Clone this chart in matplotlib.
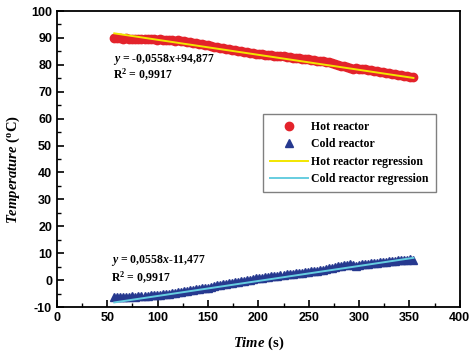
import numpy as np
import matplotlib
matplotlib.use('Agg')
import matplotlib.pyplot as plt
from matplotlib.ticker import MultipleLocator

plt.rcParams['mathtext.fontset'] = 'custom'
plt.rcParams['mathtext.rm'] = 'Liberation Serif:bold'
plt.rcParams['mathtext.it'] = 'Liberation Serif:italic:bold'
plt.rcParams['mathtext.bf'] = 'Liberation Serif:bold'
plt.rcParams['axes.unicode_minus'] = False

# sampling times (s)
time_s = list(range(57, 355, 3))

hot = [90.0, 89.8, 89.9, 89.7, 89.8, 89.6, 89.7, 89.6, 89.7, 89.6,
       89.7, 89.6, 89.5, 89.6, 89.4, 89.5, 89.3, 89.4, 89.2, 89.2,
       89.0, 89.1, 88.9, 88.8, 88.6, 88.4, 88.2, 88.0, 87.8, 87.6,
       87.4, 87.2, 87.0, 86.8, 86.6, 86.4, 86.2, 86.0, 85.8, 85.6,
       85.4, 85.2, 85.0, 84.9, 84.7, 84.5, 84.4, 84.2, 84.1, 83.9,
       83.8, 83.7, 83.6, 83.4, 83.3, 83.2, 83.1, 82.9, 82.8, 82.7,
       82.6, 82.4, 82.3, 82.2, 82.0, 81.9, 81.8, 81.6, 81.5, 81.3,
       81.1, 80.9, 80.6, 80.3, 80.0, 79.7, 79.4, 79.1, 78.8, 78.5,
       78.9, 78.6, 78.4, 78.3, 78.1, 77.9, 77.8, 77.6, 77.4, 77.2,
       77.0, 76.9, 76.7, 76.5, 76.3, 76.1, 75.9, 75.8, 75.6, 75.5]

cold = [-6.3, -6.4, -6.2, -6.3, -6.1, -6.2, -6.0, -6.1, -6.0, -5.9,
        -5.9, -5.8, -5.7, -5.7, -5.6, -5.4, -5.3, -5.1, -5.0, -4.8,
        -4.7, -4.5, -4.3, -4.2, -4.0, -3.8, -3.6, -3.4, -3.3, -3.1,
        -2.9, -2.8, -2.5, -2.3, -2.0, -1.8, -1.6, -1.4, -1.2, -1.0,
        -0.8, -0.6, -0.4, -0.2, 0.0, 0.2, 0.4, 0.6, 0.8, 0.9,
        1.1, 1.2, 1.4, 1.5, 1.7, 1.8, 2.0, 2.1, 2.3, 2.4,
        2.6, 2.7, 2.8, 3.0, 3.1, 3.2, 3.4, 3.5, 3.7, 3.9,
        4.1, 4.4, 4.6, 4.9, 5.1, 5.3, 5.5, 5.7, 5.9, 5.5,
        5.3, 5.6, 5.8, 5.9, 6.1, 6.2, 6.4, 6.5, 6.6, 6.8,
        6.9, 7.0, 7.1, 7.2, 7.3, 7.4, 7.5, 7.6, 7.7, 7.5]

# regression coefficients shown on the chart
hot_slope, hot_icpt = -0.0558, 94.877
cold_slope, cold_icpt = 0.0558, -11.477
fit_x = [57, 354]

fig = plt.figure(figsize=(4.74, 3.56), dpi=100)
ax = fig.add_axes([0.120, 0.1376, 0.850, 0.8315])

ax.plot(time_s, hot, linestyle='none', marker='o', markersize=6,
        color='#e3232b', label='Hot reactor')
ax.plot(time_s, cold, linestyle='none', marker='^', markersize=6,
        color='#26398f', label='Cold reactor')
ax.plot(fit_x, [hot_slope * v + hot_icpt for v in fit_x], color='#f2e600',
        linewidth=1.4, label='Hot reactor regression')
ax.plot(fit_x, [cold_slope * v + cold_icpt for v in fit_x], color='#66cde0',
        linewidth=1.4, label='Cold reactor regression')

ax.set_xlim(0, 400)
ax.set_ylim(-10, 100)
ax.xaxis.set_major_locator(MultipleLocator(50))
ax.xaxis.set_minor_locator(MultipleLocator(25))
ax.yaxis.set_major_locator(MultipleLocator(10))
ax.yaxis.set_minor_locator(MultipleLocator(5))
ax.tick_params(which='both', direction='in', top=False, right=False)
ax.tick_params(which='major', length=5, width=1.2, labelsize=9)
ax.tick_params(which='minor', length=3, width=1.0)
for lab in ax.get_xticklabels() + ax.get_yticklabels():
    lab.set_fontweight('bold')
    lab.set_fontfamily('Liberation Sans')
for sp in ax.spines.values():
    sp.set_linewidth(1.3)

ax.set_xlabel(r'$\it{Time}$ (s)', fontfamily='Liberation Serif',
              fontweight='bold', fontsize=10.5, labelpad=8)
ax.set_ylabel(r'$\it{Temperature}$ ($^{\rm o}$C)', fontfamily='Liberation Serif',
              fontweight='bold', fontsize=10.5)
ax.yaxis.set_label_coords(-0.087, 0.463)

tkw = dict(fontfamily='Liberation Serif', fontweight='bold', fontsize=8.5,
           va='center', ha='left')
ax.text(56, 81.8, r'$\it{y}$ = -0,0558$\it{x}$+94,877', **tkw)
ax.text(56, 76.2, r'R$^2$ = 0,9917', **tkw)
ax.text(54, 7.1, r'$\it{y}$ = 0,0558$\it{x}$-11,477', **tkw)
ax.text(54, 0.8, r'R$^2$ = 0,9917', **tkw)

leg = ax.legend(loc='upper left', bbox_to_anchor=(0.511, 0.652), borderaxespad=0,
                prop={'family': 'Liberation Serif', 'weight': 'bold', 'size': 8.5},
                handlelength=3.2, fancybox=False, edgecolor='#808080',
                framealpha=1, borderpad=0.6, labelspacing=0.45, handletextpad=0.3)
leg.get_frame().set_linewidth(1.0)

fig.savefig('out.png', dpi=100)
